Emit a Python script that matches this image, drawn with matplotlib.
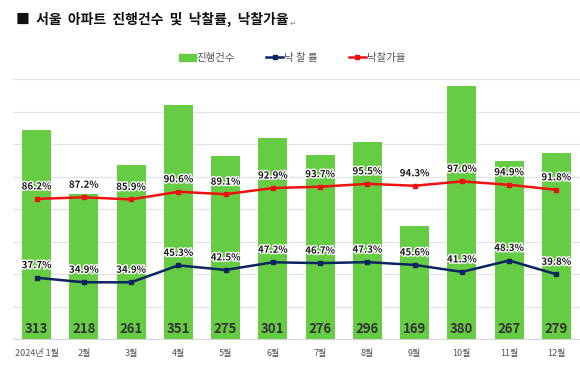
import numpy as np
import matplotlib
matplotlib.use('Agg')
import matplotlib.pyplot as plt
import matplotlib.patheffects as pe
from matplotlib.patches import Patch
from matplotlib.lines import Line2D

plt.rcParams['font.family'] = ['Noto Sans CJK KR', 'DejaVu Sans']

months = ['2024년 1월', '2월', '3월', '4월', '5월', '6월', '7월', '8월', '9월', '10월', '11월', '12월']
cases = [313, 218, 261, 351, 275, 301, 276, 296, 169, 380, 267, 279]
sale_rate = [37.7, 34.9, 34.9, 45.3, 42.5, 47.2, 46.7, 47.3, 45.6, 41.3, 48.3, 39.8]
price_rate = [86.2, 87.2, 85.9, 90.6, 89.1, 92.9, 93.7, 95.5, 94.3, 97.0, 94.9, 91.8]

green = '#66cc44'
navy = '#0b2561'
red = '#ee1111'

fig = plt.figure(figsize=(5.8, 3.78), dpi=100)
ax = fig.add_axes([13 / 580, 39 / 378, 567 / 580, 260 / 378])
x = np.arange(len(months))

ax.bar(x, cases, width=0.61, color=green, zorder=2)
ax.set_ylim(0, 390)
ax.set_xlim(-0.5, 11.5)
ax.set_yticks(np.linspace(0, 390, 9))
ax.grid(axis='y', color='#e3e3e3', linewidth=0.9, zorder=0)
ax.set_axisbelow(True)
for s in ['top', 'right', 'left']:
    ax.spines[s].set_visible(False)
ax.spines['bottom'].set_color('#d6d6d6')
ax.set_xticks(x)
ax.set_xticklabels(months)

for xi, v in zip(x, cases):
    ax.annotate(str(v), (xi, 0), xytext=(0, 7.3), textcoords='offset points',
                ha='center', va='center', fontsize=9.5, fontweight='bold', color='#333333')

ax2 = ax.twinx()
ax2.set_ylim(0, 160)
ax2.axis('off')
ax2.plot(x, price_rate, color=red, lw=1.8, marker='s', ms=3.5, zorder=3)
ax2.plot(x, sale_rate, color=navy, lw=1.8, marker='s', ms=3.5, zorder=3)

# twinx turns the left ticks back on
ax.tick_params(axis='y', left=False, right=False, labelleft=False, labelright=False)
ax.tick_params(axis='x', bottom=False, pad=4, labelsize=6.5, labelcolor='#555555')

halo = [pe.withStroke(linewidth=2, foreground='white')]
for series in [price_rate, sale_rate]:
    for xi, v in zip(x, series):
        ax2.annotate(f'{v:.1f}%', (xi, v), xytext=(0, 9), textcoords='offset points',
                     ha='center', va='center', fontsize=7, fontweight='bold',
                     color='#1a1a1a', path_effects=halo)

title = fig.text(16 / 580, 1 - 19 / 378, '■  서울  아파트  진행건수  및  낙찰률,  낙찰가율',
                 fontsize=10, fontweight='bold', va='center', ha='left', color='#111111')
fig.canvas.draw()
ax.annotate('↵', xy=(1, 0.25), xycoords=title, xytext=(1, 0), textcoords='offset points',
            fontsize=5.5, va='center', ha='left', color='#888888', family=['DejaVu Sans'],
            annotation_clip=False)

handles = [Patch(color=green),
           Line2D([], [], color=navy, lw=1.8, marker='s', ms=3),
           Line2D([], [], color=red, lw=1.8, marker='s', ms=3)]
fig.legend(handles, ['진행건수', '낙 찰 률', '낙찰가율'], loc='center',
           bbox_to_anchor=(292 / 580, 1 - 58 / 378), ncol=3, frameon=False,
           fontsize=7.5, labelcolor='#555555', handlelength=1.6, handletextpad=0.1,
           columnspacing=3.0, handleheight=0.7)

fig.savefig('out.png', dpi=100)
